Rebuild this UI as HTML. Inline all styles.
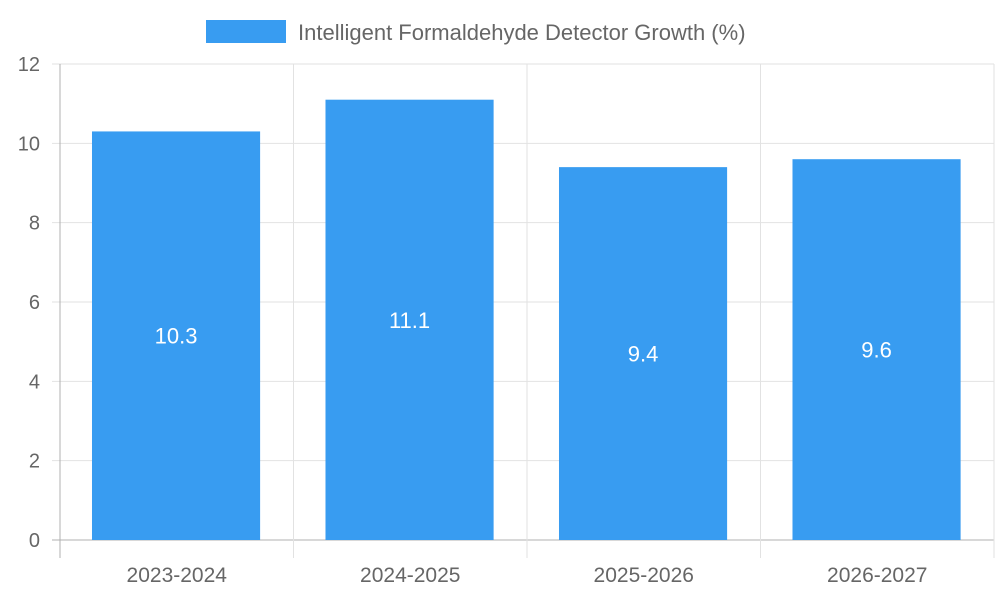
<!DOCTYPE html>
<html><head><meta charset="utf-8"><style>
html,body{margin:0;padding:0;background:#fff;}
svg{display:block;font-family:"Liberation Sans",Arial,sans-serif;}
</style></head><body>
<svg id="chart" width="1000" height="600"></svg>
<script>
const categories = ["2023-2024","2024-2025","2025-2026","2026-2027"];
const growthValues = [10.3, 11.1, 9.4, 9.6];
const yTickLabels = [0, 2, 4, 6, 8, 10, 12];
const seriesLabel = "Intelligent Formaldehyde Detector Growth (%)";

const NS = "http://www.w3.org/2000/svg";
const svg = document.getElementById("chart");
const L = 60, R = 994, T = 64, B = 540, yMax = 12;
const bandW = (R - L) / categories.length;
const yScale = v => B - (v / yMax) * (B - T);
const xBand = i => L + i * bandW;

function mk(tag, attrs, parent) {
  const el = document.createElementNS(NS, tag);
  for (const k in attrs) el.setAttribute(k, attrs[k]);
  (parent || svg).appendChild(el);
  return el;
}

// legend
const lg = mk("g", {});


mk("rect", {x: 206, y: 20, width: 80, height: 23, fill: "#389cf1"}, lg);
const lt = mk("text", {x: 298, y: 40, "font-size": 22, fill: "#666"}, lg);
lt.textContent = seriesLabel;

// y grid + ticks
yTickLabels.forEach(v => {
  const y = yScale(v);
  const gl = mk("line", {x1: L - 8, x2: R, y1: y, y2: y, stroke: v === 0 ? "#b0b0b0" : "#e2e2e2", "stroke-width": 1});
  
  
  const t = mk("text", {x: 40, y: y + 7, "font-size": 20, fill: "#666", "text-anchor": "end"});
  
  
  t.textContent = v;
});

// x grid
for (let i = 0; i <= categories.length; i++) {
  const x = xBand(i);
  const gl = mk("line", {x1: x, x2: x, y1: T, y2: B + 18, stroke: i === 0 ? "#b0b0b0" : "#e2e2e2", "stroke-width": 1});
  
  
}

// bars
categories.forEach((c, i) => {
  const x0 = xBand(i) + bandW * 0.137;
  const w = bandW * 0.72;
  const y = yScale(growthValues[i]);
  const r = mk("rect", {x: x0, y: y, width: w, height: B - y, fill: "#389cf1"});
  
  
  const vt = mk("text", {x: x0 + w / 2, y: (y + B) / 2 + 8, "font-size": 22, fill: "#fff", "text-anchor": "middle"});
  
  
  vt.textContent = growthValues[i];
  const xt = mk("text", {x: xBand(i) + bandW / 2, y: 582, "font-size": 21, fill: "#666", "text-anchor": "middle"});
  
  
  xt.textContent = c;
});
</script>
</body></html>
